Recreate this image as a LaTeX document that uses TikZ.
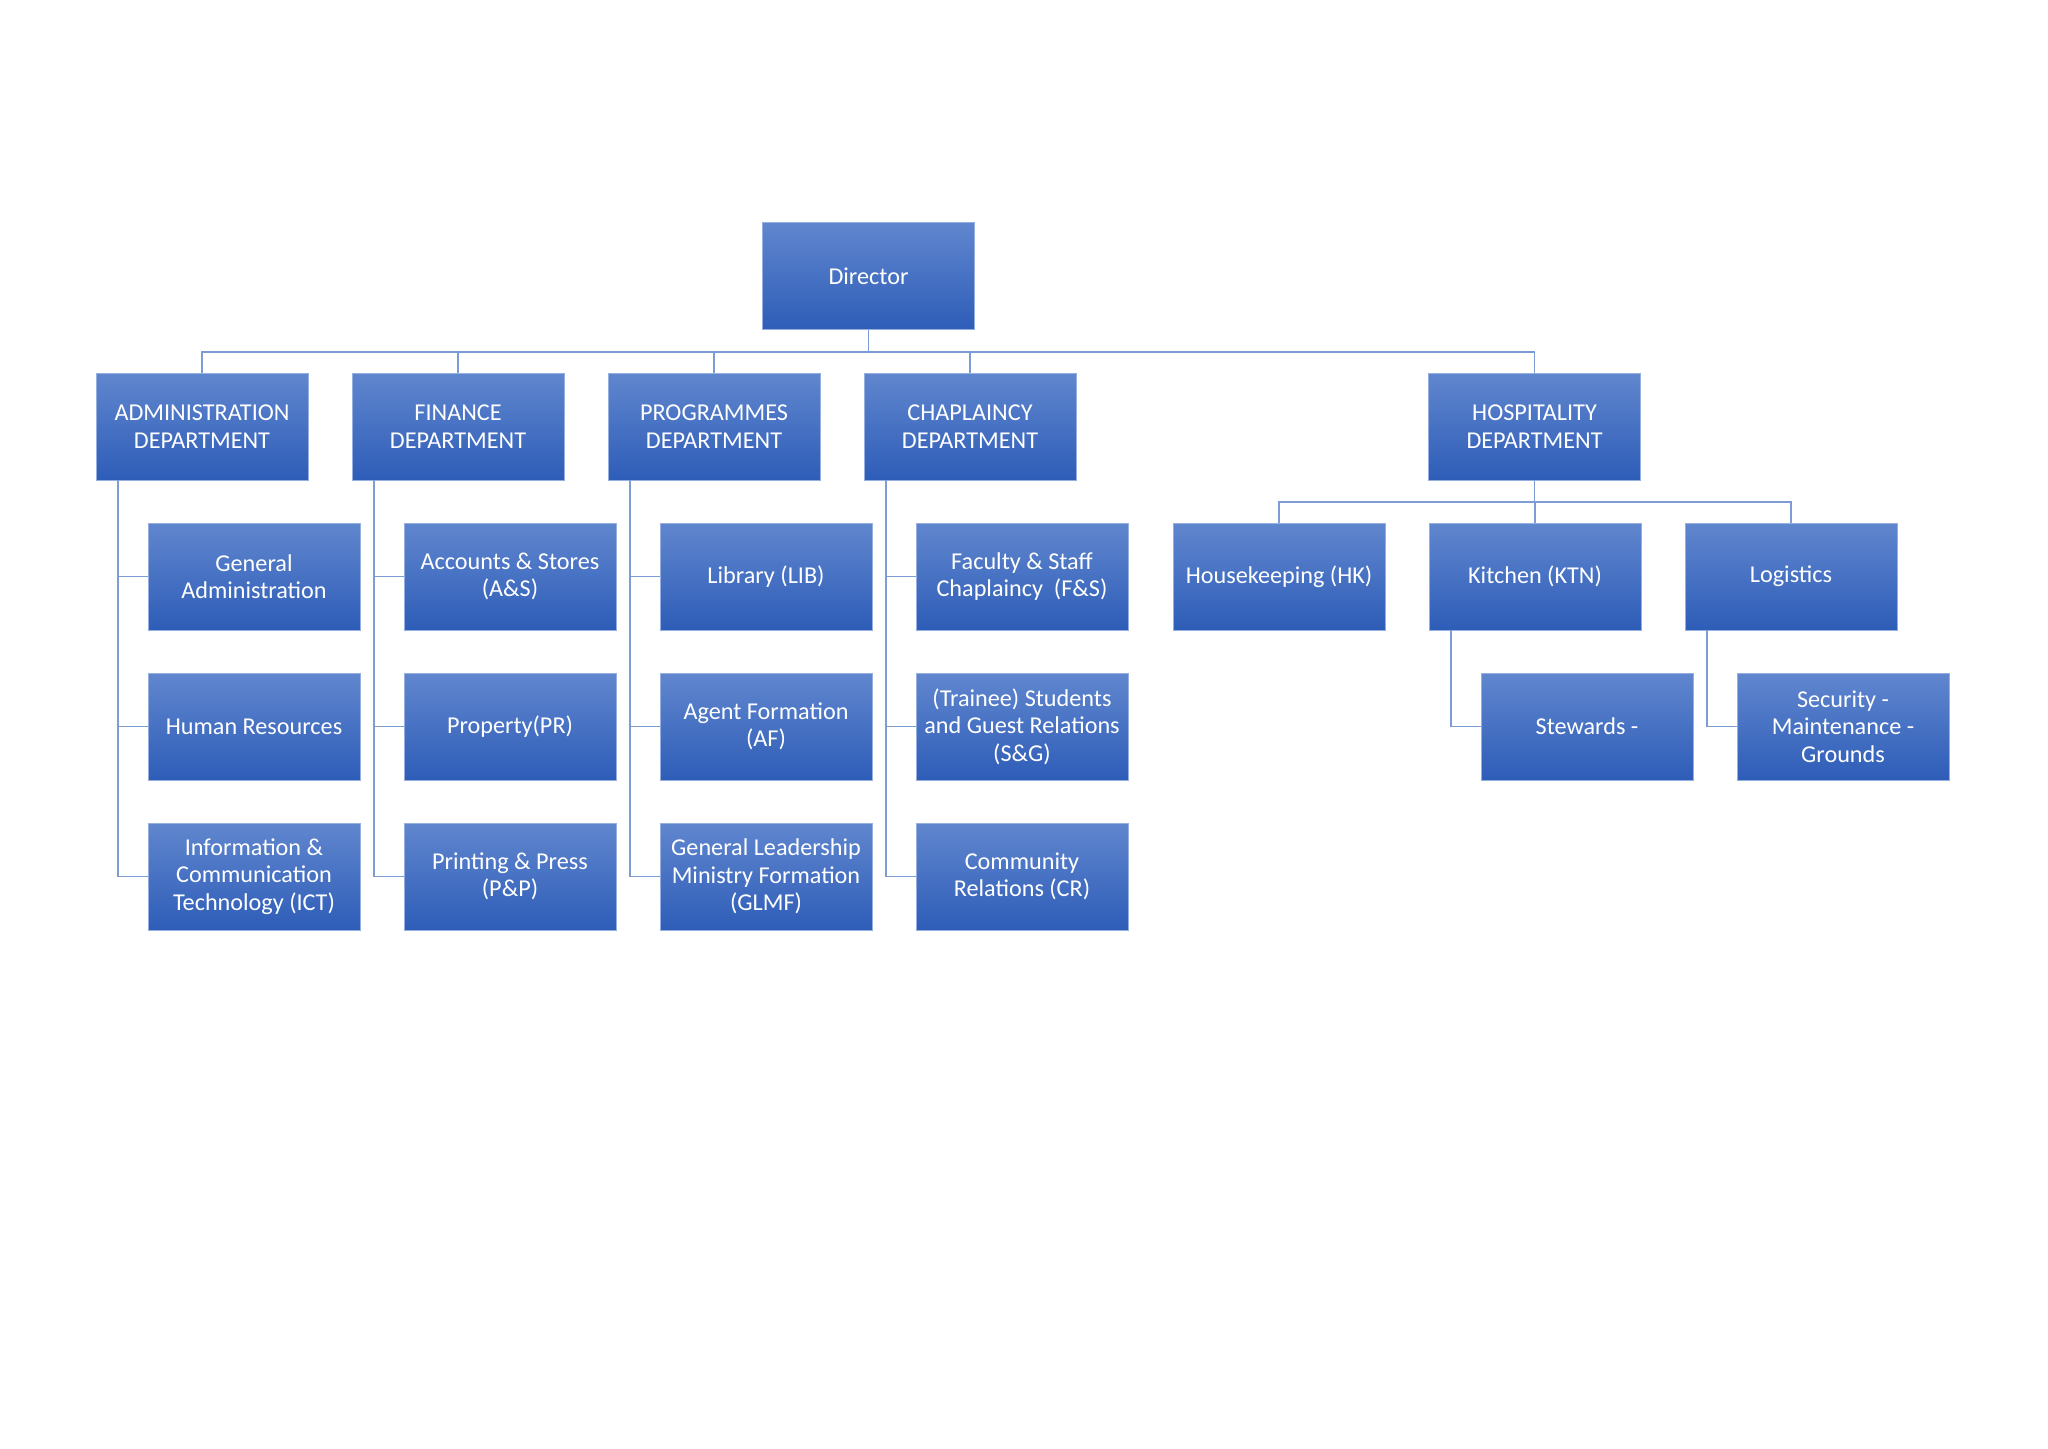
\documentclass[tikz,border=0pt]{standalone}
\usepackage{fontspec}
\setmainfont{Carlito}
\definecolor{boxtop}{RGB}{96,134,206}
\definecolor{boxmid}{RGB}{66,112,200}
\definecolor{boxbot}{RGB}{46,93,184}
\definecolor{boxedge}{RGB}{150,175,225}
\definecolor{linkcol}{RGB}{125,155,212}
\tikzset{
  orgbox/.style={rectangle, minimum width=106pt, minimum height=53.5pt, inner sep=2pt,
    top color=boxtop, middle color=boxmid, bottom color=boxbot, draw=boxedge, line width=0.4pt,
    text=white, align=center, font=\fontsize{12.1}{13.7}\selectfont},
  link/.style={draw=linkcol, line width=0.8pt}
}
\begin{document}
\begin{tikzpicture}[x=0.5pt, y=-0.5pt]
\useasboundingbox (0,0) rectangle (2048,1448);
% top
\node[orgbox] (dir) at (868.5,276) {Director};
% departments
\node[orgbox] (adm) at (202,426.5) {ADMINISTRATION\\DEPARTMENT};
\node[orgbox] (fin) at (458,426.5) {FINANCE\\DEPARTMENT};
\node[orgbox] (prg) at (714,426.5) {PROGRAMMES\\DEPARTMENT};
\node[orgbox] (chp) at (970,426.5) {CHAPLAINCY\\DEPARTMENT};
\node[orgbox] (hos) at (1534.5,426.5) {HOSPITALITY\\DEPARTMENT};
% admin children
\node[orgbox] (ga) at (254,576.5) {General\\Administration};
\node[orgbox] (hr) at (254,726.5) {Human Resources};
\node[orgbox] (ict) at (254,876.5) {Information \&\\Communication\\Technology (ICT)};
% finance children
\node[orgbox] (as) at (510,576.5) {Accounts \& Stores\\(A\&S)};
\node[orgbox] (pr) at (510,726.5) {Property(PR)};
\node[orgbox] (pp) at (510,876.5) {Printing \& Press\\(P\&P)};
% programmes children
\node[orgbox] (lib) at (766,576.5) {Library (LIB)};
\node[orgbox] (af) at (766,726.5) {Agent Formation\\(AF)};
\node[orgbox] (glmf) at (766,876.5) {General Leadership\\Ministry Formation\\(GLMF)};
% chaplaincy children
\node[orgbox] (fs) at (1022,576.5) {Faculty \& Staff\\Chaplaincy\ \ (F\&S)};
\node[orgbox] (sg) at (1022,726.5) {(Trainee) Students\\and Guest Relations\\(S\&G)};
\node[orgbox] (cr) at (1022,876.5) {Community\\Relations (CR)};
% hospitality children
\node[orgbox] (hk) at (1279,576.5) {Housekeeping (HK)};
\node[orgbox] (ktn) at (1535,576.5) {Kitchen (KTN)};
\node[orgbox] (log) at (1791,576.5) {Logistics};
\node[orgbox] (stw) at (1587,726.5) {Stewards -};
\node[orgbox] (sec) at (1843,726.5) {Security -\\Maintenance -\\Grounds};
% main bus
\coordinate (bus) at (868.5,352);
\path[link] (dir.south) -- (bus);
\path[link] (bus) -| (adm.north);
\path[link] (bus) -| (fin.north);
\path[link] (bus) -| (prg.north);
\path[link] (bus) -| (chp.north);
\path[link] (bus) -| (hos.north);
% hospitality bus
\coordinate (hbus) at (1534.5,502);
\path[link] (hos.south) -- (hbus);
\path[link] (hbus) -| (hk.north);
\path[link] (hbus) -| (ktn.north);
\path[link] (hbus) -| (log.north);
% department side links
\foreach \d/\c in {adm/ga,adm/hr,adm/ict,fin/as,fin/pr,fin/pp,prg/lib,prg/af,prg/glmf,chp/fs,chp/sg,chp/cr,ktn/stw,log/sec}
  \path[link] ([xshift=-42pt]\d.south) |- (\c.west);
\end{tikzpicture}
\end{document}
